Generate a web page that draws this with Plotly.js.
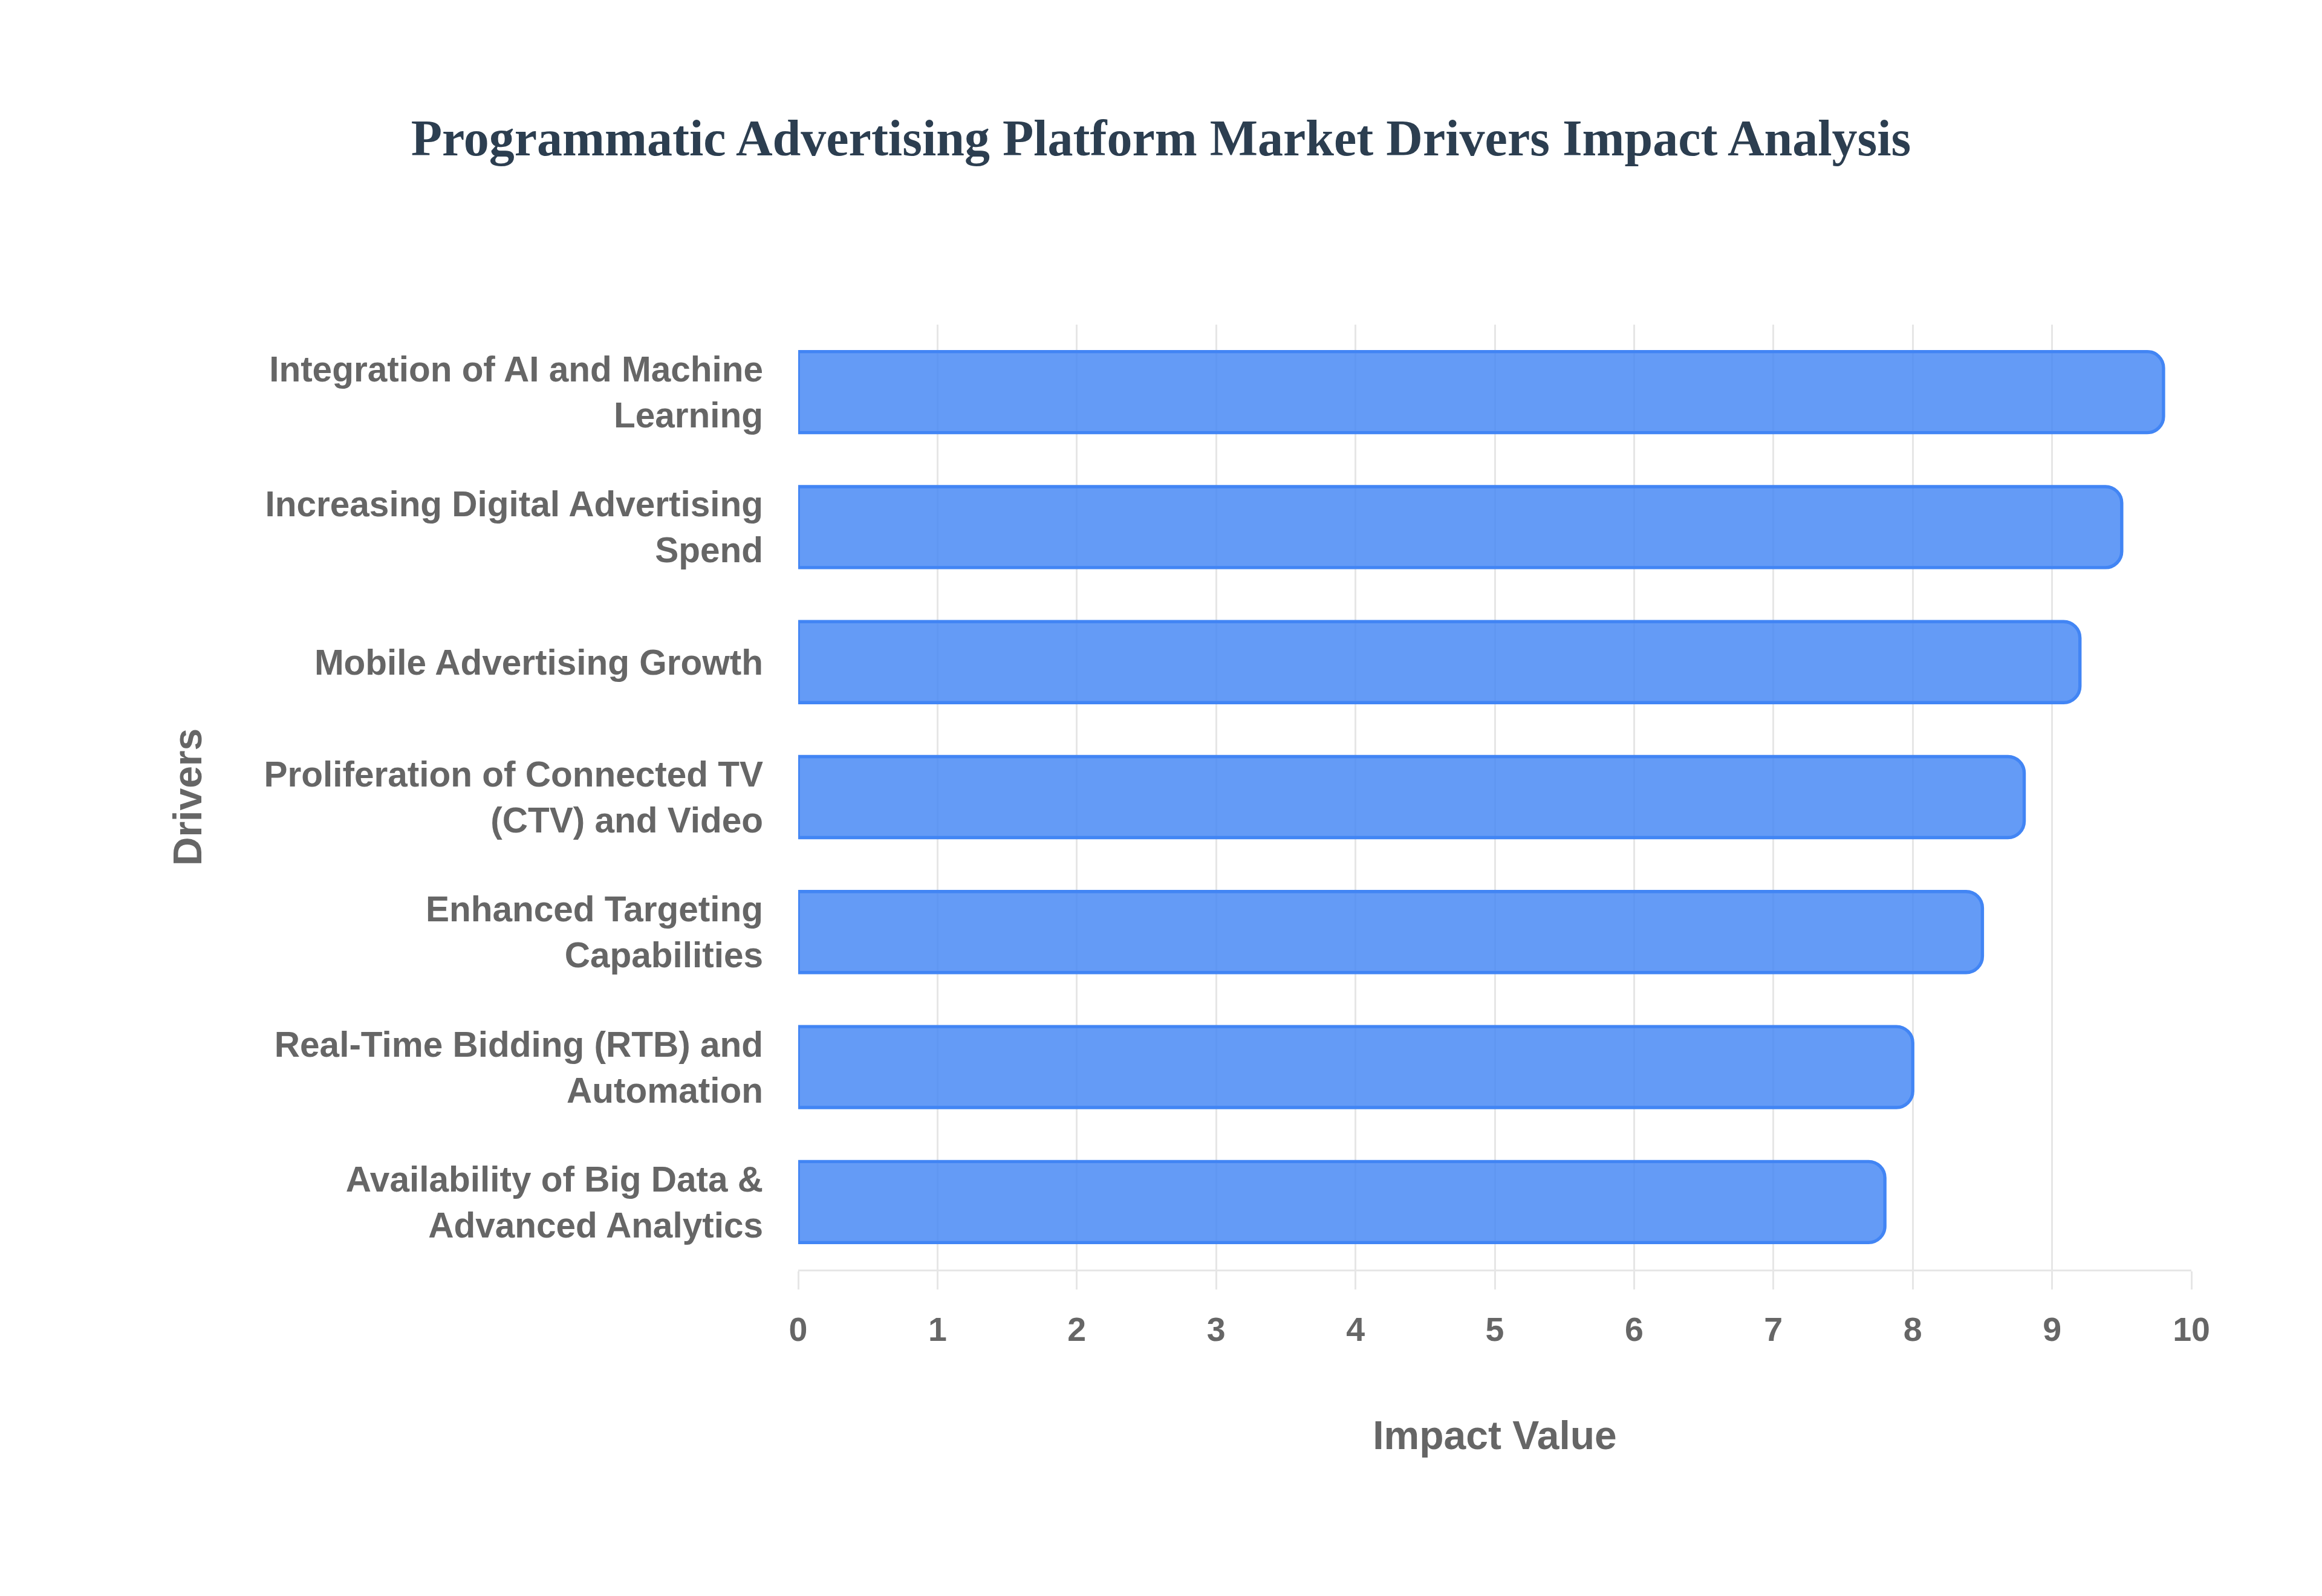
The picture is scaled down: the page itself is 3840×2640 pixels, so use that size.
<!DOCTYPE html>
<html>
<head>
<meta charset="utf-8">
<script src="https://cdn.plot.ly/plotly-3.0.1.min.js"></script>
<style>
  html, body { margin: 0; padding: 0; background: #fff; }
  #chart { width: 3840px; height: 2640px; }
</style>
</head>
<body>
<div id="chart"></div>
<script>
// categories, top to bottom
const drivers = [
  "Integration of AI and Machine<br>Learning",
  "Increasing Digital Advertising<br>Spend",
  "Mobile Advertising Growth",
  "Proliferation of Connected TV<br>(CTV) and Video",
  "Enhanced Targeting<br>Capabilities",
  "Real-Time Bidding (RTB) and<br>Automation",
  "Availability of Big Data &<br>Advanced Analytics"
];
const impact = [9.8, 9.5, 9.2, 8.8, 8.5, 8.0, 7.8];
const xTicks = [0, 1, 2, 3, 4, 5, 6, 7, 8, 9, 10];

// everything was laid out at 1280x880, drawn 3 times bigger
const S = 3;
const grey = "#666666";
const gridCol = "#e6e6e6";

const trace = {
  type: "bar",
  orientation: "h",
  x: impact,
  y: drivers,
  width: 0.6,
  marker: {
    color: "rgba(66,133,244,0.82)",
    line: { color: "#4285f4", width: 1.8 * S }
  },
  hoverinfo: "x+y"
};

const layout = {
  width: 1280 * S,
  height: 880 * S,
  paper_bgcolor: "#ffffff",
  plot_bgcolor: "#ffffff",
  margin: { l: 440 * S, r: 72 * S, t: 179 * S, b: 180 * S },
  barcornerradius: 9 * S,
  showlegend: false,
  title: {
    text: "<b>Programmatic Advertising Platform Market Drivers Impact Analysis</b>",
    font: { family: "Liberation Serif, Times New Roman, serif", size: 28 * S, color: "#2c3e50" },
    x: 0.5,
    xanchor: "center",
    y: 1 - 76 / 880,
    yanchor: "middle"
  },
  xaxis: {
    range: [0, 10],
    tickvals: xTicks,
    ticks: "outside",
    ticklen: 10 * S,
    tickwidth: 1 * S,
    tickcolor: gridCol,
    ticklabelstandoff: 6 * S,
    showgrid: true,
    gridcolor: gridCol,
    gridwidth: 1 * S,
    zeroline: false,
    showline: true,
    linecolor: gridCol,
    linewidth: 1 * S,
    tickfont: { family: "Liberation Sans, Arial, sans-serif", size: 18.5 * S, color: grey, weight: "bold" },
    title: {
      text: "<b>Impact Value</b>",
      font: { family: "Liberation Sans, Arial, sans-serif", size: 22 * S, color: grey },
      standoff: 41 * S
    }
  },
  yaxis: {
    autorange: "reversed",
    showgrid: false,
    zeroline: false,
    showline: false,
    ticks: "",
    ticklabelstandoff: 19 * S,
    tickfont: { family: "Liberation Sans, Arial, sans-serif", size: 19.5 * S, color: grey, weight: "bold" },
    title: {
      text: "<b>Drivers</b>",
      font: { family: "Liberation Sans, Arial, sans-serif", size: 22 * S, color: grey },
      standoff: 27 * S
    }
  }
};

Plotly.newPlot("chart", [trace], layout, { displayModeBar: false, staticPlot: true });
</script>
</body>
</html>
